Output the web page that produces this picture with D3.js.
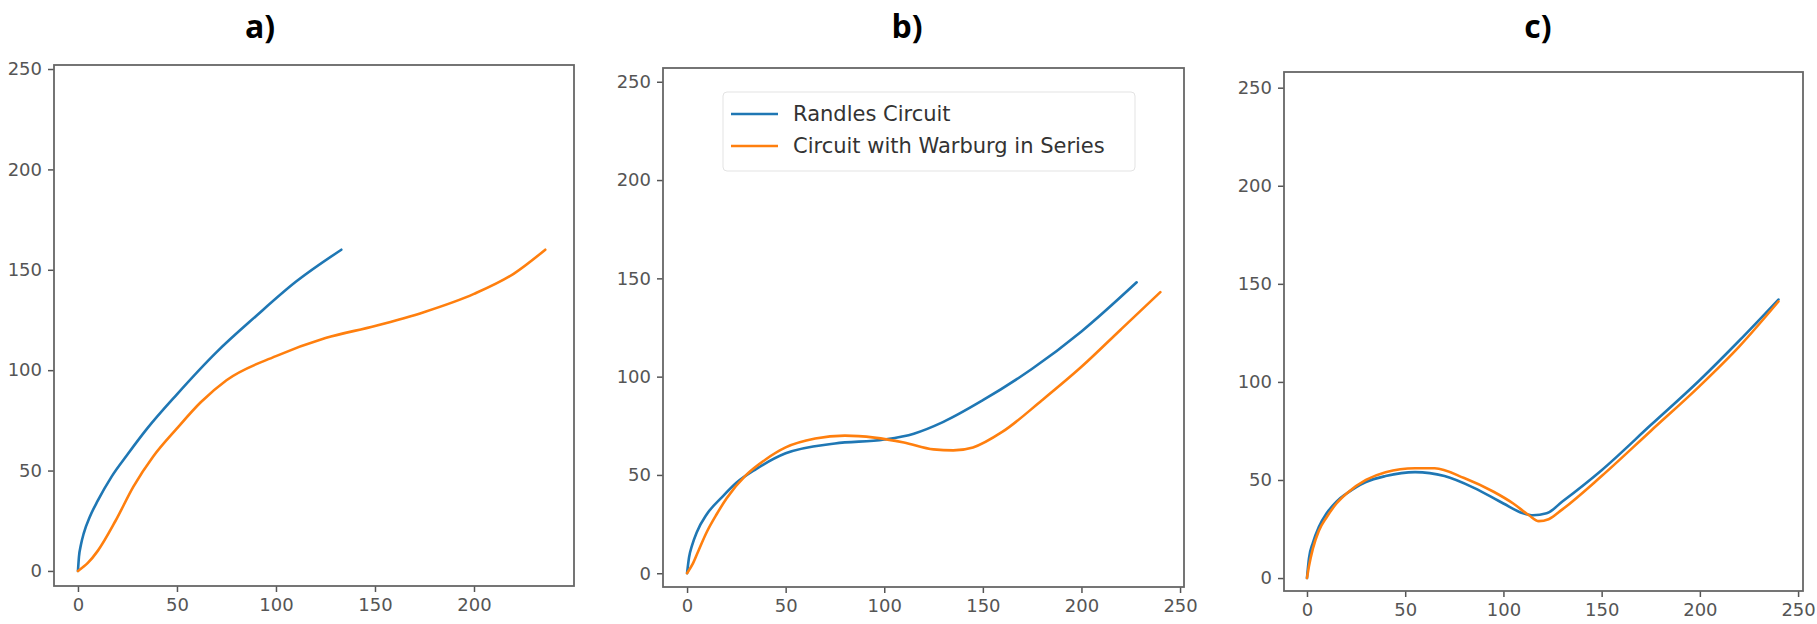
<!DOCTYPE html>
<html>
<head>
<meta charset="utf-8">
<script src="https://cdn.jsdelivr.net/npm/d3@7"></script>
<style>
  body { margin: 0; background: #fff; }
  text { font-family: "DejaVu Sans", sans-serif; }
</style>
</head>
<body>
<script>
// series: [x, y] pairs
var aRandles = [[0,0],[0.5,7],[1.5,13],[3,19],[6,27],[10,35],[17,47],[25,58],[35,71],[50,88],[70,109],[90,127],[110,144],[133,160]];
var aWarburg = [[0,0],[5,4],[10,10],[19,25],[28,42],[38,57],[50,71],[62,84],[75,95],[100,107],[125,116],[150,122],[175,129],[200,138],[220,148],[236,160]];

var bRandles = [[0,0],[1,8],[2.5,14],[5,21],[10,30],[18,39],[25,46],[35,53],[50,61],[75,66],[100,68],[115,71],[130,77],[150,88],[175,104],[200,123],[228,148]];
var bWarburg = [[0,0],[3,5],[6,12],[10,21],[15,30],[20,38],[30,50],[40,58],[50,64],[65,68.5],[80,70],[95,69],[110,66.5],[125,63],[135,62.5],[145,64],[160,72],[180,88],[200,105],[220,124],[240,143]];

var cRandles = [[0,0],[1,10],[3,18],[6,26],[10,33],[15,39],[20,43],[30,49],[40,52],[55,54],[70,52],[85,46],[100,38],[110,33],[115,32],[122,33],[130,39],[150,55],[175,78],[200,101],[220,121],[240,142]];
var cWarburg = [[0,0],[1,6],[3,15],[6,24],[10,31],[15,38],[20,43],[30,50],[40,54],[55,56],[65,56],[80,51],[95,44],[105,38],[113,32],[118,29],[123,30],[130,35],[150,52],[175,75],[200,98],[220,118],[240,141]];

var titles = ["a)", "b)", "c)"];
var seriesNames = ["Randles Circuit", "Circuit with Warburg in Series"];
var xTicks = [[0,50,100,150,200], [0,50,100,150,200,250], [0,50,100,150,200,250]];
var yTicks = [0,50,100,150,200,250];

var colors = ["#1f77b4", "#ff7f0e"];

// frame of each panel in pixels, plus axis domains
var panels = [
  { left: 54,   right: 574,  top: 65, bottom: 586, xd: [-12.1, 250.5], yd: [-7.5, 252], data: [aRandles, aWarburg], tx: 260 },
  { left: 663,  right: 1184, top: 68, bottom: 587, xd: [-12.2, 252],   yd: [-7, 257],   data: [bRandles, bWarburg], tx: 907 },
  { left: 1284, right: 1803, top: 72, bottom: 591, xd: [-11.7, 252.5], yd: [-6.6, 258], data: [cRandles, cWarburg], tx: 1538 }
];

var svg = d3.select("body").append("svg").attr("width", 1817).attr("height", 624);

panels.forEach(function(p, i) {
  var x = d3.scaleLinear().domain(p.xd).range([p.left, p.right]);
  var y = d3.scaleLinear().domain(p.yd).range([p.bottom, p.top]);

  svg.append("text")
     .attr("x", p.tx).attr("y", 38)
     .attr("text-anchor", "middle")
     .style("font-family", "'Open Sans', sans-serif")
     .style("font-weight", "bold")
     .style("font-size", "32px")
     .text(titles[i]);

  var line = d3.line()
     .x(function(d) { return x(d[0]); })
     .y(function(d) { return y(d[1]); })
     .curve(d3.curveMonotoneX);

  p.data.forEach(function(s, j) {
    svg.append("path")
       .attr("d", line(s))
       .attr("fill", "none")
       .attr("stroke", colors[j])
       .attr("stroke-width", 2.6)
       .attr("stroke-linecap", "round");
  });

  var gx = svg.append("g").attr("transform", "translate(0," + p.bottom + ")")
     .call(d3.axisBottom(x).tickValues(xTicks[i]).tickSize(6).tickPadding(6).tickFormat(d3.format("d")));
  var gy = svg.append("g").attr("transform", "translate(" + p.left + ",0)")
     .call(d3.axisLeft(y).tickValues(yTicks).tickSize(6).tickPadding(6).tickFormat(d3.format("d")));
  [gx, gy].forEach(function(g) {
    g.select(".domain").remove();
    g.selectAll("line").attr("stroke", "#555").attr("stroke-width", 1.5);
    g.selectAll("text").attr("fill", "#555").style("font-size", "18px");
  });

  svg.append("rect")
     .attr("x", p.left).attr("y", p.top)
     .attr("width", p.right - p.left).attr("height", p.bottom - p.top)
     .attr("fill", "none").attr("stroke", "#666").attr("stroke-width", 1.8);

  // legend only in panel b
  if (i === 1) {
    var lg = svg.append("g");
    lg.append("rect")
      .attr("x", 723).attr("y", 92).attr("width", 412).attr("height", 79).attr("rx", 4)
      .attr("fill", "#fff").attr("stroke", "#e3e3e3").attr("stroke-width", 1);
    seriesNames.forEach(function(n, j) {
      var yy = 114 + j * 32;
      lg.append("line").attr("x1", 731).attr("x2", 778).attr("y1", yy).attr("y2", yy)
        .attr("stroke", colors[j]).attr("stroke-width", 2.6);
      lg.append("text").attr("x", 793).attr("y", yy + 7)
        .attr("fill", "#333").style("font-size", "21px").text(n);
    });
  }
});
</script>
</body>
</html>
